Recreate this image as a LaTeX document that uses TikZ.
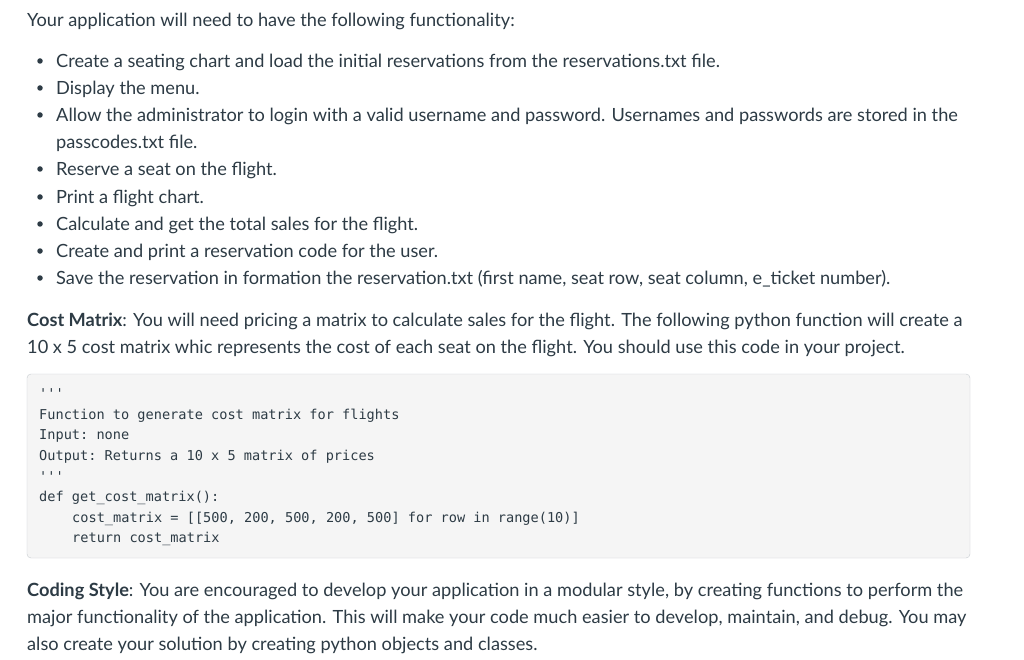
\documentclass[tikz,border=0pt]{standalone}
\usepackage{fontspec}
\setmainfont{Lato}
\setmonofont{DejaVu Sans Mono}
\definecolor{txt}{HTML}{2D3B45}
\definecolor{codebg}{HTML}{F5F5F5}
\definecolor{codeborder}{HTML}{C7CDD1}
\begin{document}
\begin{tikzpicture}[x=1pt,y=-1pt,
  every node/.style={inner sep=0pt,anchor=west,text=txt},
  body/.style={font=\fontsize{18.2}{21}\selectfont},
  code/.style={font=\ttfamily\fontsize{13.6}{16}\selectfont},
  bul/.style={circle,fill=txt,minimum size=5.5pt,inner sep=0pt,anchor=center}]
\useasboundingbox[fill=white] (0,0) rectangle (1024,660);
\node[body] (l0) at (27,21) {Your application will need to have the following functionality:};
\foreach \y/\t [count=\i] in {62/{Create a seating chart and load the initial reservations from the reservations.txt file.},
  89/{Display the menu.},
  116/{Allow the administrator to login with a valid username and password. Usernames and passwords are stored in the},
  170/{Reserve a seat on the flight.},
  198/{Print a flight chart.},
  225/{Calculate and get the total sales for the flight.},
  252/{Create and print a reservation code for the user.},
  279/{Save the reservation in formation the reservation.txt (first name, seat row, seat column, e\_ticket number).}}{
  \node[bul] (b\i) at (40,\y-1) {};
  \node[body] (t\i) at (56,\y) {\t};
}
\node[body] (t3b) at (56,143) {passcodes.txt file.};
\node[body] (c1) at (27,321) {\textbf{Cost Matrix}: You will need pricing a matrix to calculate sales for the flight. The following python function will create a};
\node[body] (c2) at (27,348) {10 x 5 cost matrix whic represents the cost of each seat on the flight. You should use this code in your project.};
\draw[codeborder,fill=codebg,rounded corners=4pt] (27,374) rectangle (970,558);
\node[code] (k1) at (39,394) {'{}'{}'};
\node[code] (k2) at (39,416) {Function to generate cost matrix for flights};
\node[code] (k3) at (39,436) {Input: none};
\node[code] (k4) at (39,457) {Output: Returns a 10 x 5 matrix of prices};
\node[code] (k5) at (39,477) {'{}'{}'};
\node[code] (k6) at (39,498) {def get\_cost\_matrix():};
\node[code] (k7) at (72,519) {cost\_matrix = [[500, 200, 500, 200, 500] for row in range(10)]};
\node[code] (k8) at (72,539) {return cost\_matrix};
\node[body] (s1) at (27,591) {\textbf{Coding Style}: You are encouraged to develop your application in a modular style, by creating functions to perform the};
\node[body] (s2) at (27,618) {major functionality of the application. This will make your code much easier to develop, maintain, and debug. You may};
\node[body] (s3) at (27,645) {also create your solution by creating python objects and classes.};
\end{tikzpicture}
\end{document}
